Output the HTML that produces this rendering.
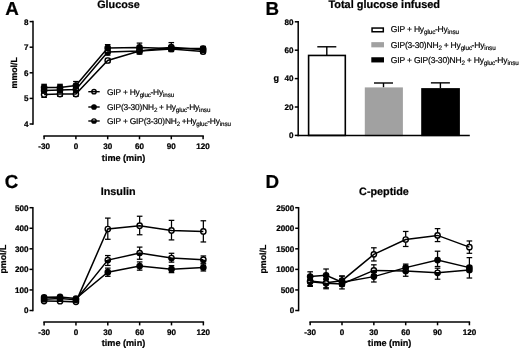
<!DOCTYPE html>
<html><head><meta charset="utf-8"><title>Figure</title>
<style>
html,body{margin:0;padding:0;background:#fff;}
body{width:520px;height:349px;overflow:hidden;}
svg{display:block;font-family:'Liberation Sans', Arial, Helvetica, sans-serif;text-rendering:geometricPrecision;}
text{stroke:#000;stroke-width:0.22px;}
text.reg{stroke-width:0.18px;}
</style></head><body>
<svg width="520" height="349" viewBox="0 0 520 349" font-family="'Liberation Sans', Arial, Helvetica, sans-serif" fill="#000">
<rect x="0" y="0" width="520" height="349" fill="#fff"/>
<line x1="33.00" y1="20.85" x2="33.00" y2="124.75" stroke="#000" stroke-width="1.5" />
<line x1="29.60" y1="124.00" x2="33.00" y2="124.00" stroke="#000" stroke-width="1.5" />
<text x="28.60" y="126.90" font-size="8.1" font-weight="bold" text-anchor="end" >4</text>
<line x1="29.60" y1="98.40" x2="33.00" y2="98.40" stroke="#000" stroke-width="1.5" />
<text x="28.60" y="101.30" font-size="8.1" font-weight="bold" text-anchor="end" >5</text>
<line x1="29.60" y1="72.80" x2="33.00" y2="72.80" stroke="#000" stroke-width="1.5" />
<text x="28.60" y="75.70" font-size="8.1" font-weight="bold" text-anchor="end" >6</text>
<line x1="29.60" y1="47.20" x2="33.00" y2="47.20" stroke="#000" stroke-width="1.5" />
<text x="28.60" y="50.10" font-size="8.1" font-weight="bold" text-anchor="end" >7</text>
<line x1="29.60" y1="21.60" x2="33.00" y2="21.60" stroke="#000" stroke-width="1.5" />
<text x="28.60" y="24.50" font-size="8.1" font-weight="bold" text-anchor="end" >8</text>
<line x1="43.35" y1="135.90" x2="203.85" y2="135.90" stroke="#000" stroke-width="1.5" />
<line x1="44.10" y1="135.90" x2="44.10" y2="139.30" stroke="#000" stroke-width="1.5" />
<text x="44.10" y="148.80" font-size="8.1" font-weight="bold" text-anchor="middle" >-30</text>
<line x1="75.90" y1="135.90" x2="75.90" y2="139.30" stroke="#000" stroke-width="1.5" />
<text x="75.90" y="148.80" font-size="8.1" font-weight="bold" text-anchor="middle" >0</text>
<line x1="107.70" y1="135.90" x2="107.70" y2="139.30" stroke="#000" stroke-width="1.5" />
<text x="107.70" y="148.80" font-size="8.1" font-weight="bold" text-anchor="middle" >30</text>
<line x1="139.50" y1="135.90" x2="139.50" y2="139.30" stroke="#000" stroke-width="1.5" />
<text x="139.50" y="148.80" font-size="8.1" font-weight="bold" text-anchor="middle" >60</text>
<line x1="171.30" y1="135.90" x2="171.30" y2="139.30" stroke="#000" stroke-width="1.5" />
<text x="171.30" y="148.80" font-size="8.1" font-weight="bold" text-anchor="middle" >90</text>
<line x1="203.10" y1="135.90" x2="203.10" y2="139.30" stroke="#000" stroke-width="1.5" />
<text x="203.10" y="148.80" font-size="8.1" font-weight="bold" text-anchor="middle" >120</text>
<text x="123.60" y="160.50" font-size="9.1" font-weight="bold" text-anchor="middle" >time (min)</text>
<text x="118.50" y="7.70" font-size="10.8" font-weight="bold" text-anchor="middle" >Glucose</text>
<text transform="translate(17.30,72.80) rotate(-90)" font-size="8.8" font-weight="bold" text-anchor="middle">mmol/L</text>
<line x1="44.10" y1="92.00" x2="44.10" y2="97.38" stroke="#000" stroke-width="1.25" />
<line x1="41.30" y1="92.00" x2="46.90" y2="92.00" stroke="#000" stroke-width="1.25" />
<line x1="41.30" y1="97.38" x2="46.90" y2="97.38" stroke="#000" stroke-width="1.25" />
<line x1="60.00" y1="91.49" x2="60.00" y2="96.35" stroke="#000" stroke-width="1.25" />
<line x1="57.20" y1="91.49" x2="62.80" y2="91.49" stroke="#000" stroke-width="1.25" />
<line x1="57.20" y1="96.35" x2="62.80" y2="96.35" stroke="#000" stroke-width="1.25" />
<line x1="75.90" y1="91.49" x2="75.90" y2="96.35" stroke="#000" stroke-width="1.25" />
<line x1="73.10" y1="91.49" x2="78.70" y2="91.49" stroke="#000" stroke-width="1.25" />
<line x1="73.10" y1="96.35" x2="78.70" y2="96.35" stroke="#000" stroke-width="1.25" />
<line x1="107.70" y1="58.46" x2="107.70" y2="62.56" stroke="#000" stroke-width="1.25" />
<line x1="104.90" y1="58.46" x2="110.50" y2="58.46" stroke="#000" stroke-width="1.25" />
<line x1="104.90" y1="62.56" x2="110.50" y2="62.56" stroke="#000" stroke-width="1.25" />
<line x1="139.50" y1="48.48" x2="139.50" y2="54.11" stroke="#000" stroke-width="1.25" />
<line x1="136.70" y1="48.48" x2="142.30" y2="48.48" stroke="#000" stroke-width="1.25" />
<line x1="136.70" y1="54.11" x2="142.30" y2="54.11" stroke="#000" stroke-width="1.25" />
<line x1="171.30" y1="46.43" x2="171.30" y2="51.55" stroke="#000" stroke-width="1.25" />
<line x1="168.50" y1="46.43" x2="174.10" y2="46.43" stroke="#000" stroke-width="1.25" />
<line x1="168.50" y1="51.55" x2="174.10" y2="51.55" stroke="#000" stroke-width="1.25" />
<line x1="203.10" y1="49.50" x2="203.10" y2="53.60" stroke="#000" stroke-width="1.25" />
<line x1="200.30" y1="49.50" x2="205.90" y2="49.50" stroke="#000" stroke-width="1.25" />
<line x1="200.30" y1="53.60" x2="205.90" y2="53.60" stroke="#000" stroke-width="1.25" />
<circle cx="44.10" cy="94.56" r="2.65" fill="#fff" stroke="#000" stroke-width="1.4"/>
<circle cx="60.00" cy="94.05" r="2.65" fill="#fff" stroke="#000" stroke-width="1.4"/>
<circle cx="75.90" cy="94.05" r="2.65" fill="#fff" stroke="#000" stroke-width="1.4"/>
<circle cx="107.70" cy="60.51" r="2.65" fill="#fff" stroke="#000" stroke-width="1.4"/>
<circle cx="139.50" cy="51.04" r="2.65" fill="#fff" stroke="#000" stroke-width="1.4"/>
<circle cx="171.30" cy="48.99" r="2.65" fill="#fff" stroke="#000" stroke-width="1.4"/>
<circle cx="203.10" cy="51.55" r="2.65" fill="#fff" stroke="#000" stroke-width="1.4"/>
<polyline fill="none" stroke="#000" stroke-width="1.5" points="44.10,94.56 60.00,94.05 75.90,94.05 107.70,60.51 139.50,51.04 171.30,48.99 203.10,51.55"/>
<line x1="44.10" y1="87.90" x2="44.10" y2="93.02" stroke="#000" stroke-width="1.25" />
<line x1="41.30" y1="87.90" x2="46.90" y2="87.90" stroke="#000" stroke-width="1.25" />
<line x1="41.30" y1="93.02" x2="46.90" y2="93.02" stroke="#000" stroke-width="1.25" />
<line x1="60.00" y1="87.39" x2="60.00" y2="92.51" stroke="#000" stroke-width="1.25" />
<line x1="57.20" y1="87.39" x2="62.80" y2="87.39" stroke="#000" stroke-width="1.25" />
<line x1="57.20" y1="92.51" x2="62.80" y2="92.51" stroke="#000" stroke-width="1.25" />
<line x1="75.90" y1="86.37" x2="75.90" y2="92.51" stroke="#000" stroke-width="1.25" />
<line x1="73.10" y1="86.37" x2="78.70" y2="86.37" stroke="#000" stroke-width="1.25" />
<line x1="73.10" y1="92.51" x2="78.70" y2="92.51" stroke="#000" stroke-width="1.25" />
<line x1="107.70" y1="48.99" x2="107.70" y2="55.14" stroke="#000" stroke-width="1.25" />
<line x1="104.90" y1="48.99" x2="110.50" y2="48.99" stroke="#000" stroke-width="1.25" />
<line x1="104.90" y1="55.14" x2="110.50" y2="55.14" stroke="#000" stroke-width="1.25" />
<line x1="139.50" y1="48.48" x2="139.50" y2="53.60" stroke="#000" stroke-width="1.25" />
<line x1="136.70" y1="48.48" x2="142.30" y2="48.48" stroke="#000" stroke-width="1.25" />
<line x1="136.70" y1="53.60" x2="142.30" y2="53.60" stroke="#000" stroke-width="1.25" />
<line x1="171.30" y1="42.59" x2="171.30" y2="49.76" stroke="#000" stroke-width="1.25" />
<line x1="168.50" y1="42.59" x2="174.10" y2="42.59" stroke="#000" stroke-width="1.25" />
<line x1="168.50" y1="49.76" x2="174.10" y2="49.76" stroke="#000" stroke-width="1.25" />
<line x1="203.10" y1="47.71" x2="203.10" y2="51.81" stroke="#000" stroke-width="1.25" />
<line x1="200.30" y1="47.71" x2="205.90" y2="47.71" stroke="#000" stroke-width="1.25" />
<line x1="200.30" y1="51.81" x2="205.90" y2="51.81" stroke="#000" stroke-width="1.25" />
<circle cx="44.10" cy="90.46" r="2.65" fill="#fff" stroke="#000" stroke-width="1.4"/>
<path d="M41.45 90.46 A2.65 2.65 0 0 0 46.75 90.46 Z" fill="#000"/>
<circle cx="60.00" cy="89.95" r="2.65" fill="#fff" stroke="#000" stroke-width="1.4"/>
<path d="M57.35 89.95 A2.65 2.65 0 0 0 62.65 89.95 Z" fill="#000"/>
<circle cx="75.90" cy="89.44" r="2.65" fill="#fff" stroke="#000" stroke-width="1.4"/>
<path d="M73.25 89.44 A2.65 2.65 0 0 0 78.55 89.44 Z" fill="#000"/>
<circle cx="107.70" cy="52.06" r="2.65" fill="#fff" stroke="#000" stroke-width="1.4"/>
<path d="M105.05 52.06 A2.65 2.65 0 0 0 110.35 52.06 Z" fill="#000"/>
<circle cx="139.50" cy="51.04" r="2.65" fill="#fff" stroke="#000" stroke-width="1.4"/>
<path d="M136.85 51.04 A2.65 2.65 0 0 0 142.15 51.04 Z" fill="#000"/>
<circle cx="171.30" cy="47.20" r="2.65" fill="#fff" stroke="#000" stroke-width="1.4"/>
<path d="M168.65 47.20 A2.65 2.65 0 0 0 173.95 47.20 Z" fill="#000"/>
<circle cx="203.10" cy="49.76" r="2.65" fill="#fff" stroke="#000" stroke-width="1.4"/>
<path d="M200.45 49.76 A2.65 2.65 0 0 0 205.75 49.76 Z" fill="#000"/>
<polyline fill="none" stroke="#000" stroke-width="1.5" points="44.10,90.46 60.00,89.95 75.90,89.44 107.70,52.06 139.50,51.04 171.30,47.20 203.10,49.76"/>
<line x1="44.10" y1="84.32" x2="44.10" y2="89.95" stroke="#000" stroke-width="1.25" />
<line x1="41.30" y1="84.32" x2="46.90" y2="84.32" stroke="#000" stroke-width="1.25" />
<line x1="41.30" y1="89.95" x2="46.90" y2="89.95" stroke="#000" stroke-width="1.25" />
<line x1="60.00" y1="84.32" x2="60.00" y2="89.95" stroke="#000" stroke-width="1.25" />
<line x1="57.20" y1="84.32" x2="62.80" y2="84.32" stroke="#000" stroke-width="1.25" />
<line x1="57.20" y1="89.95" x2="62.80" y2="89.95" stroke="#000" stroke-width="1.25" />
<line x1="75.90" y1="81.50" x2="75.90" y2="88.16" stroke="#000" stroke-width="1.25" />
<line x1="73.10" y1="81.50" x2="78.70" y2="81.50" stroke="#000" stroke-width="1.25" />
<line x1="73.10" y1="88.16" x2="78.70" y2="88.16" stroke="#000" stroke-width="1.25" />
<line x1="107.70" y1="44.64" x2="107.70" y2="50.53" stroke="#000" stroke-width="1.25" />
<line x1="104.90" y1="44.64" x2="110.50" y2="44.64" stroke="#000" stroke-width="1.25" />
<line x1="104.90" y1="50.53" x2="110.50" y2="50.53" stroke="#000" stroke-width="1.25" />
<line x1="139.50" y1="43.10" x2="139.50" y2="50.02" stroke="#000" stroke-width="1.25" />
<line x1="136.70" y1="43.10" x2="142.30" y2="43.10" stroke="#000" stroke-width="1.25" />
<line x1="136.70" y1="50.02" x2="142.30" y2="50.02" stroke="#000" stroke-width="1.25" />
<line x1="171.30" y1="45.92" x2="171.30" y2="51.04" stroke="#000" stroke-width="1.25" />
<line x1="168.50" y1="45.92" x2="174.10" y2="45.92" stroke="#000" stroke-width="1.25" />
<line x1="168.50" y1="51.04" x2="174.10" y2="51.04" stroke="#000" stroke-width="1.25" />
<line x1="203.10" y1="46.43" x2="203.10" y2="50.53" stroke="#000" stroke-width="1.25" />
<line x1="200.30" y1="46.43" x2="205.90" y2="46.43" stroke="#000" stroke-width="1.25" />
<line x1="200.30" y1="50.53" x2="205.90" y2="50.53" stroke="#000" stroke-width="1.25" />
<circle cx="44.10" cy="87.39" r="2.65" fill="#000" stroke="#000" stroke-width="1.4"/>
<circle cx="60.00" cy="87.39" r="2.65" fill="#000" stroke="#000" stroke-width="1.4"/>
<circle cx="75.90" cy="85.60" r="2.65" fill="#000" stroke="#000" stroke-width="1.4"/>
<circle cx="107.70" cy="47.97" r="2.65" fill="#000" stroke="#000" stroke-width="1.4"/>
<circle cx="139.50" cy="47.46" r="2.65" fill="#000" stroke="#000" stroke-width="1.4"/>
<circle cx="171.30" cy="48.48" r="2.65" fill="#000" stroke="#000" stroke-width="1.4"/>
<circle cx="203.10" cy="48.48" r="2.65" fill="#000" stroke="#000" stroke-width="1.4"/>
<polyline fill="none" stroke="#000" stroke-width="1.5" points="44.10,87.39 60.00,87.39 75.90,85.60 107.70,47.97 139.50,47.46 171.30,48.48 203.10,48.48"/>
<line x1="32.90" y1="206.95" x2="32.90" y2="311.25" stroke="#000" stroke-width="1.5" />
<line x1="29.50" y1="310.50" x2="32.90" y2="310.50" stroke="#000" stroke-width="1.5" />
<text x="28.50" y="313.40" font-size="8.1" font-weight="bold" text-anchor="end" >0</text>
<line x1="29.50" y1="289.94" x2="32.90" y2="289.94" stroke="#000" stroke-width="1.5" />
<text x="28.50" y="292.84" font-size="8.1" font-weight="bold" text-anchor="end" >100</text>
<line x1="29.50" y1="269.38" x2="32.90" y2="269.38" stroke="#000" stroke-width="1.5" />
<text x="28.50" y="272.28" font-size="8.1" font-weight="bold" text-anchor="end" >200</text>
<line x1="29.50" y1="248.82" x2="32.90" y2="248.82" stroke="#000" stroke-width="1.5" />
<text x="28.50" y="251.72" font-size="8.1" font-weight="bold" text-anchor="end" >300</text>
<line x1="29.50" y1="228.26" x2="32.90" y2="228.26" stroke="#000" stroke-width="1.5" />
<text x="28.50" y="231.16" font-size="8.1" font-weight="bold" text-anchor="end" >400</text>
<line x1="29.50" y1="207.70" x2="32.90" y2="207.70" stroke="#000" stroke-width="1.5" />
<text x="28.50" y="210.60" font-size="8.1" font-weight="bold" text-anchor="end" >500</text>
<line x1="43.35" y1="322.00" x2="204.10" y2="322.00" stroke="#000" stroke-width="1.5" />
<line x1="44.10" y1="322.00" x2="44.10" y2="325.40" stroke="#000" stroke-width="1.5" />
<text x="44.10" y="335.00" font-size="8.1" font-weight="bold" text-anchor="middle" >-30</text>
<line x1="75.95" y1="322.00" x2="75.95" y2="325.40" stroke="#000" stroke-width="1.5" />
<text x="75.95" y="335.00" font-size="8.1" font-weight="bold" text-anchor="middle" >0</text>
<line x1="107.80" y1="322.00" x2="107.80" y2="325.40" stroke="#000" stroke-width="1.5" />
<text x="107.80" y="335.00" font-size="8.1" font-weight="bold" text-anchor="middle" >30</text>
<line x1="139.65" y1="322.00" x2="139.65" y2="325.40" stroke="#000" stroke-width="1.5" />
<text x="139.65" y="335.00" font-size="8.1" font-weight="bold" text-anchor="middle" >60</text>
<line x1="171.50" y1="322.00" x2="171.50" y2="325.40" stroke="#000" stroke-width="1.5" />
<text x="171.50" y="335.00" font-size="8.1" font-weight="bold" text-anchor="middle" >90</text>
<line x1="203.35" y1="322.00" x2="203.35" y2="325.40" stroke="#000" stroke-width="1.5" />
<text x="203.35" y="335.00" font-size="8.1" font-weight="bold" text-anchor="middle" >120</text>
<text x="123.50" y="346.30" font-size="9.1" font-weight="bold" text-anchor="middle" >time (min)</text>
<text x="118.10" y="194.50" font-size="10.8" font-weight="bold" text-anchor="middle" >Insulin</text>
<text transform="translate(6.40,259.10) rotate(-90)" font-size="8.8" font-weight="bold" text-anchor="middle">pmol/L</text>
<line x1="44.10" y1="300.00" x2="44.10" y2="302.06" stroke="#000" stroke-width="1.25" />
<line x1="41.30" y1="300.00" x2="46.90" y2="300.00" stroke="#000" stroke-width="1.25" />
<line x1="41.30" y1="302.06" x2="46.90" y2="302.06" stroke="#000" stroke-width="1.25" />
<line x1="60.03" y1="300.21" x2="60.03" y2="302.27" stroke="#000" stroke-width="1.25" />
<line x1="57.23" y1="300.21" x2="62.83" y2="300.21" stroke="#000" stroke-width="1.25" />
<line x1="57.23" y1="302.27" x2="62.83" y2="302.27" stroke="#000" stroke-width="1.25" />
<line x1="75.95" y1="300.83" x2="75.95" y2="302.89" stroke="#000" stroke-width="1.25" />
<line x1="73.15" y1="300.83" x2="78.75" y2="300.83" stroke="#000" stroke-width="1.25" />
<line x1="73.15" y1="302.89" x2="78.75" y2="302.89" stroke="#000" stroke-width="1.25" />
<line x1="107.80" y1="218.10" x2="107.80" y2="239.29" stroke="#000" stroke-width="1.25" />
<line x1="105.00" y1="218.10" x2="110.60" y2="218.10" stroke="#000" stroke-width="1.25" />
<line x1="105.00" y1="239.29" x2="110.60" y2="239.29" stroke="#000" stroke-width="1.25" />
<line x1="139.65" y1="216.24" x2="139.65" y2="234.77" stroke="#000" stroke-width="1.25" />
<line x1="136.85" y1="216.24" x2="142.45" y2="216.24" stroke="#000" stroke-width="1.25" />
<line x1="136.85" y1="234.77" x2="142.45" y2="234.77" stroke="#000" stroke-width="1.25" />
<line x1="171.50" y1="220.36" x2="171.50" y2="239.91" stroke="#000" stroke-width="1.25" />
<line x1="168.70" y1="220.36" x2="174.30" y2="220.36" stroke="#000" stroke-width="1.25" />
<line x1="168.70" y1="239.91" x2="174.30" y2="239.91" stroke="#000" stroke-width="1.25" />
<line x1="203.35" y1="220.77" x2="203.35" y2="241.97" stroke="#000" stroke-width="1.25" />
<line x1="200.55" y1="220.77" x2="206.15" y2="220.77" stroke="#000" stroke-width="1.25" />
<line x1="200.55" y1="241.97" x2="206.15" y2="241.97" stroke="#000" stroke-width="1.25" />
<circle cx="44.10" cy="301.03" r="2.65" fill="#fff" stroke="#000" stroke-width="1.4"/>
<circle cx="60.03" cy="301.24" r="2.65" fill="#fff" stroke="#000" stroke-width="1.4"/>
<circle cx="75.95" cy="301.86" r="2.65" fill="#fff" stroke="#000" stroke-width="1.4"/>
<circle cx="107.80" cy="229.00" r="2.65" fill="#fff" stroke="#000" stroke-width="1.4"/>
<circle cx="139.65" cy="225.71" r="2.65" fill="#fff" stroke="#000" stroke-width="1.4"/>
<circle cx="171.50" cy="230.44" r="2.65" fill="#fff" stroke="#000" stroke-width="1.4"/>
<circle cx="203.35" cy="231.47" r="2.65" fill="#fff" stroke="#000" stroke-width="1.4"/>
<polyline fill="none" stroke="#000" stroke-width="1.5" points="44.10,301.03 60.03,301.24 75.95,301.86 107.80,229.00 139.65,225.71 171.50,230.44 203.35,231.47"/>
<line x1="44.10" y1="298.15" x2="44.10" y2="300.21" stroke="#000" stroke-width="1.25" />
<line x1="41.30" y1="298.15" x2="46.90" y2="298.15" stroke="#000" stroke-width="1.25" />
<line x1="41.30" y1="300.21" x2="46.90" y2="300.21" stroke="#000" stroke-width="1.25" />
<line x1="60.03" y1="297.53" x2="60.03" y2="299.59" stroke="#000" stroke-width="1.25" />
<line x1="57.23" y1="297.53" x2="62.83" y2="297.53" stroke="#000" stroke-width="1.25" />
<line x1="57.23" y1="299.59" x2="62.83" y2="299.59" stroke="#000" stroke-width="1.25" />
<line x1="75.95" y1="298.77" x2="75.95" y2="300.83" stroke="#000" stroke-width="1.25" />
<line x1="73.15" y1="298.77" x2="78.75" y2="298.77" stroke="#000" stroke-width="1.25" />
<line x1="73.15" y1="300.83" x2="78.75" y2="300.83" stroke="#000" stroke-width="1.25" />
<line x1="107.80" y1="255.55" x2="107.80" y2="265.43" stroke="#000" stroke-width="1.25" />
<line x1="105.00" y1="255.55" x2="110.60" y2="255.55" stroke="#000" stroke-width="1.25" />
<line x1="105.00" y1="265.43" x2="110.60" y2="265.43" stroke="#000" stroke-width="1.25" />
<line x1="139.65" y1="247.11" x2="139.65" y2="259.26" stroke="#000" stroke-width="1.25" />
<line x1="136.85" y1="247.11" x2="142.45" y2="247.11" stroke="#000" stroke-width="1.25" />
<line x1="136.85" y1="259.26" x2="142.45" y2="259.26" stroke="#000" stroke-width="1.25" />
<line x1="171.50" y1="253.29" x2="171.50" y2="262.14" stroke="#000" stroke-width="1.25" />
<line x1="168.70" y1="253.29" x2="174.30" y2="253.29" stroke="#000" stroke-width="1.25" />
<line x1="168.70" y1="262.14" x2="174.30" y2="262.14" stroke="#000" stroke-width="1.25" />
<line x1="203.35" y1="255.96" x2="203.35" y2="263.17" stroke="#000" stroke-width="1.25" />
<line x1="200.55" y1="255.96" x2="206.15" y2="255.96" stroke="#000" stroke-width="1.25" />
<line x1="200.55" y1="263.17" x2="206.15" y2="263.17" stroke="#000" stroke-width="1.25" />
<circle cx="44.10" cy="299.18" r="2.65" fill="#fff" stroke="#000" stroke-width="1.4"/>
<path d="M41.45 299.18 A2.65 2.65 0 0 0 46.75 299.18 Z" fill="#000"/>
<circle cx="60.03" cy="298.56" r="2.65" fill="#fff" stroke="#000" stroke-width="1.4"/>
<path d="M57.38 298.56 A2.65 2.65 0 0 0 62.68 298.56 Z" fill="#000"/>
<circle cx="75.95" cy="299.80" r="2.65" fill="#fff" stroke="#000" stroke-width="1.4"/>
<path d="M73.30 299.80 A2.65 2.65 0 0 0 78.60 299.80 Z" fill="#000"/>
<circle cx="107.80" cy="260.08" r="2.65" fill="#fff" stroke="#000" stroke-width="1.4"/>
<path d="M105.15 260.08 A2.65 2.65 0 0 0 110.45 260.08 Z" fill="#000"/>
<circle cx="139.65" cy="253.08" r="2.65" fill="#fff" stroke="#000" stroke-width="1.4"/>
<path d="M137.00 253.08 A2.65 2.65 0 0 0 142.30 253.08 Z" fill="#000"/>
<circle cx="171.50" cy="258.02" r="2.65" fill="#fff" stroke="#000" stroke-width="1.4"/>
<path d="M168.85 258.02 A2.65 2.65 0 0 0 174.15 258.02 Z" fill="#000"/>
<circle cx="203.35" cy="259.67" r="2.65" fill="#fff" stroke="#000" stroke-width="1.4"/>
<path d="M200.70 259.67 A2.65 2.65 0 0 0 206.00 259.67 Z" fill="#000"/>
<polyline fill="none" stroke="#000" stroke-width="1.5" points="44.10,299.18 60.03,298.56 75.95,299.80 107.80,260.08 139.65,253.08 171.50,258.02 203.35,259.67"/>
<line x1="44.10" y1="296.30" x2="44.10" y2="298.36" stroke="#000" stroke-width="1.25" />
<line x1="41.30" y1="296.30" x2="46.90" y2="296.30" stroke="#000" stroke-width="1.25" />
<line x1="41.30" y1="298.36" x2="46.90" y2="298.36" stroke="#000" stroke-width="1.25" />
<line x1="60.03" y1="295.89" x2="60.03" y2="297.95" stroke="#000" stroke-width="1.25" />
<line x1="57.23" y1="295.89" x2="62.83" y2="295.89" stroke="#000" stroke-width="1.25" />
<line x1="57.23" y1="297.95" x2="62.83" y2="297.95" stroke="#000" stroke-width="1.25" />
<line x1="75.95" y1="297.53" x2="75.95" y2="299.59" stroke="#000" stroke-width="1.25" />
<line x1="73.15" y1="297.53" x2="78.75" y2="297.53" stroke="#000" stroke-width="1.25" />
<line x1="73.15" y1="299.59" x2="78.75" y2="299.59" stroke="#000" stroke-width="1.25" />
<line x1="107.80" y1="268.11" x2="107.80" y2="276.34" stroke="#000" stroke-width="1.25" />
<line x1="105.00" y1="268.11" x2="110.60" y2="268.11" stroke="#000" stroke-width="1.25" />
<line x1="105.00" y1="276.34" x2="110.60" y2="276.34" stroke="#000" stroke-width="1.25" />
<line x1="139.65" y1="261.93" x2="139.65" y2="270.16" stroke="#000" stroke-width="1.25" />
<line x1="136.85" y1="261.93" x2="142.45" y2="261.93" stroke="#000" stroke-width="1.25" />
<line x1="136.85" y1="270.16" x2="142.45" y2="270.16" stroke="#000" stroke-width="1.25" />
<line x1="171.50" y1="265.64" x2="171.50" y2="272.63" stroke="#000" stroke-width="1.25" />
<line x1="168.70" y1="265.64" x2="174.30" y2="265.64" stroke="#000" stroke-width="1.25" />
<line x1="168.70" y1="272.63" x2="174.30" y2="272.63" stroke="#000" stroke-width="1.25" />
<line x1="203.35" y1="263.99" x2="203.35" y2="270.99" stroke="#000" stroke-width="1.25" />
<line x1="200.55" y1="263.99" x2="206.15" y2="263.99" stroke="#000" stroke-width="1.25" />
<line x1="200.55" y1="270.99" x2="206.15" y2="270.99" stroke="#000" stroke-width="1.25" />
<circle cx="44.10" cy="297.33" r="2.65" fill="#000" stroke="#000" stroke-width="1.4"/>
<circle cx="60.03" cy="296.92" r="2.65" fill="#000" stroke="#000" stroke-width="1.4"/>
<circle cx="75.95" cy="298.56" r="2.65" fill="#000" stroke="#000" stroke-width="1.4"/>
<circle cx="107.80" cy="272.22" r="2.65" fill="#000" stroke="#000" stroke-width="1.4"/>
<circle cx="139.65" cy="266.05" r="2.65" fill="#000" stroke="#000" stroke-width="1.4"/>
<circle cx="171.50" cy="269.13" r="2.65" fill="#000" stroke="#000" stroke-width="1.4"/>
<circle cx="203.35" cy="267.49" r="2.65" fill="#000" stroke="#000" stroke-width="1.4"/>
<polyline fill="none" stroke="#000" stroke-width="1.5" points="44.10,297.33 60.03,296.92 75.95,298.56 107.80,272.22 139.65,266.05 171.50,269.13 203.35,267.49"/>
<line x1="298.60" y1="206.95" x2="298.60" y2="311.25" stroke="#000" stroke-width="1.5" />
<line x1="295.20" y1="310.50" x2="298.60" y2="310.50" stroke="#000" stroke-width="1.5" />
<text x="294.20" y="313.40" font-size="8.1" font-weight="bold" text-anchor="end" >0</text>
<line x1="295.20" y1="289.94" x2="298.60" y2="289.94" stroke="#000" stroke-width="1.5" />
<text x="294.20" y="292.84" font-size="8.1" font-weight="bold" text-anchor="end" >500</text>
<line x1="295.20" y1="269.38" x2="298.60" y2="269.38" stroke="#000" stroke-width="1.5" />
<text x="294.20" y="272.28" font-size="8.1" font-weight="bold" text-anchor="end" >1000</text>
<line x1="295.20" y1="248.82" x2="298.60" y2="248.82" stroke="#000" stroke-width="1.5" />
<text x="294.20" y="251.72" font-size="8.1" font-weight="bold" text-anchor="end" >1500</text>
<line x1="295.20" y1="228.26" x2="298.60" y2="228.26" stroke="#000" stroke-width="1.5" />
<text x="294.20" y="231.16" font-size="8.1" font-weight="bold" text-anchor="end" >2000</text>
<line x1="295.20" y1="207.70" x2="298.60" y2="207.70" stroke="#000" stroke-width="1.5" />
<text x="294.20" y="210.60" font-size="8.1" font-weight="bold" text-anchor="end" >2500</text>
<line x1="309.40" y1="321.90" x2="470.15" y2="321.90" stroke="#000" stroke-width="1.5" />
<line x1="310.15" y1="321.90" x2="310.15" y2="325.30" stroke="#000" stroke-width="1.5" />
<text x="310.15" y="335.00" font-size="8.1" font-weight="bold" text-anchor="middle" >-30</text>
<line x1="342.00" y1="321.90" x2="342.00" y2="325.30" stroke="#000" stroke-width="1.5" />
<text x="342.00" y="335.00" font-size="8.1" font-weight="bold" text-anchor="middle" >0</text>
<line x1="373.85" y1="321.90" x2="373.85" y2="325.30" stroke="#000" stroke-width="1.5" />
<text x="373.85" y="335.00" font-size="8.1" font-weight="bold" text-anchor="middle" >30</text>
<line x1="405.70" y1="321.90" x2="405.70" y2="325.30" stroke="#000" stroke-width="1.5" />
<text x="405.70" y="335.00" font-size="8.1" font-weight="bold" text-anchor="middle" >60</text>
<line x1="437.55" y1="321.90" x2="437.55" y2="325.30" stroke="#000" stroke-width="1.5" />
<text x="437.55" y="335.00" font-size="8.1" font-weight="bold" text-anchor="middle" >90</text>
<line x1="469.40" y1="321.90" x2="469.40" y2="325.30" stroke="#000" stroke-width="1.5" />
<text x="469.40" y="335.00" font-size="8.1" font-weight="bold" text-anchor="middle" >120</text>
<text x="389.60" y="346.30" font-size="9.1" font-weight="bold" text-anchor="middle" >time (min)</text>
<text x="384.00" y="194.50" font-size="10.8" font-weight="bold" text-anchor="middle" >C-peptide</text>
<text transform="translate(266.40,259.10) rotate(-90)" font-size="8.8" font-weight="bold" text-anchor="middle">pmol/L</text>
<line x1="310.15" y1="276.90" x2="310.15" y2="285.54" stroke="#000" stroke-width="1.25" />
<line x1="307.35" y1="276.90" x2="312.95" y2="276.90" stroke="#000" stroke-width="1.25" />
<line x1="307.35" y1="285.54" x2="312.95" y2="285.54" stroke="#000" stroke-width="1.25" />
<line x1="326.07" y1="278.67" x2="326.07" y2="287.72" stroke="#000" stroke-width="1.25" />
<line x1="323.27" y1="278.67" x2="328.88" y2="278.67" stroke="#000" stroke-width="1.25" />
<line x1="323.27" y1="287.72" x2="328.88" y2="287.72" stroke="#000" stroke-width="1.25" />
<line x1="342.00" y1="276.16" x2="342.00" y2="284.80" stroke="#000" stroke-width="1.25" />
<line x1="339.20" y1="276.16" x2="344.80" y2="276.16" stroke="#000" stroke-width="1.25" />
<line x1="339.20" y1="284.80" x2="344.80" y2="284.80" stroke="#000" stroke-width="1.25" />
<line x1="373.85" y1="247.79" x2="373.85" y2="260.95" stroke="#000" stroke-width="1.25" />
<line x1="371.05" y1="247.79" x2="376.65" y2="247.79" stroke="#000" stroke-width="1.25" />
<line x1="371.05" y1="260.95" x2="376.65" y2="260.95" stroke="#000" stroke-width="1.25" />
<line x1="405.70" y1="231.47" x2="405.70" y2="246.48" stroke="#000" stroke-width="1.25" />
<line x1="402.90" y1="231.47" x2="408.50" y2="231.47" stroke="#000" stroke-width="1.25" />
<line x1="402.90" y1="246.48" x2="408.50" y2="246.48" stroke="#000" stroke-width="1.25" />
<line x1="437.55" y1="228.63" x2="437.55" y2="241.58" stroke="#000" stroke-width="1.25" />
<line x1="434.75" y1="228.63" x2="440.35" y2="228.63" stroke="#000" stroke-width="1.25" />
<line x1="434.75" y1="241.58" x2="440.35" y2="241.58" stroke="#000" stroke-width="1.25" />
<line x1="469.40" y1="240.97" x2="469.40" y2="253.30" stroke="#000" stroke-width="1.25" />
<line x1="466.60" y1="240.97" x2="472.20" y2="240.97" stroke="#000" stroke-width="1.25" />
<line x1="466.60" y1="253.30" x2="472.20" y2="253.30" stroke="#000" stroke-width="1.25" />
<circle cx="310.15" cy="281.02" r="2.65" fill="#fff" stroke="#000" stroke-width="1.4"/>
<circle cx="326.07" cy="282.79" r="2.65" fill="#fff" stroke="#000" stroke-width="1.4"/>
<circle cx="342.00" cy="280.69" r="2.65" fill="#fff" stroke="#000" stroke-width="1.4"/>
<circle cx="373.85" cy="254.37" r="2.65" fill="#fff" stroke="#000" stroke-width="1.4"/>
<circle cx="405.70" cy="239.49" r="2.65" fill="#fff" stroke="#000" stroke-width="1.4"/>
<circle cx="437.55" cy="235.41" r="2.65" fill="#fff" stroke="#000" stroke-width="1.4"/>
<circle cx="469.40" cy="247.13" r="2.65" fill="#fff" stroke="#000" stroke-width="1.4"/>
<polyline fill="none" stroke="#000" stroke-width="1.5" points="310.15,281.02 326.07,282.79 342.00,280.69 373.85,254.37 405.70,239.49 437.55,235.41 469.40,247.13"/>
<line x1="310.15" y1="277.60" x2="310.15" y2="286.40" stroke="#000" stroke-width="1.25" />
<line x1="307.35" y1="277.60" x2="312.95" y2="277.60" stroke="#000" stroke-width="1.25" />
<line x1="307.35" y1="286.40" x2="312.95" y2="286.40" stroke="#000" stroke-width="1.25" />
<line x1="326.07" y1="279.25" x2="326.07" y2="288.75" stroke="#000" stroke-width="1.25" />
<line x1="323.27" y1="279.25" x2="328.88" y2="279.25" stroke="#000" stroke-width="1.25" />
<line x1="323.27" y1="288.75" x2="328.88" y2="288.75" stroke="#000" stroke-width="1.25" />
<line x1="342.00" y1="279.87" x2="342.00" y2="288.91" stroke="#000" stroke-width="1.25" />
<line x1="339.20" y1="279.87" x2="344.80" y2="279.87" stroke="#000" stroke-width="1.25" />
<line x1="339.20" y1="288.91" x2="344.80" y2="288.91" stroke="#000" stroke-width="1.25" />
<line x1="373.85" y1="264.82" x2="373.85" y2="274.52" stroke="#000" stroke-width="1.25" />
<line x1="371.05" y1="264.82" x2="376.65" y2="264.82" stroke="#000" stroke-width="1.25" />
<line x1="371.05" y1="274.52" x2="376.65" y2="274.52" stroke="#000" stroke-width="1.25" />
<line x1="405.70" y1="266.91" x2="405.70" y2="276.25" stroke="#000" stroke-width="1.25" />
<line x1="402.90" y1="266.91" x2="408.50" y2="266.91" stroke="#000" stroke-width="1.25" />
<line x1="402.90" y1="276.25" x2="408.50" y2="276.25" stroke="#000" stroke-width="1.25" />
<line x1="437.55" y1="268.19" x2="437.55" y2="279.21" stroke="#000" stroke-width="1.25" />
<line x1="434.75" y1="268.19" x2="440.35" y2="268.19" stroke="#000" stroke-width="1.25" />
<line x1="434.75" y1="279.21" x2="440.35" y2="279.21" stroke="#000" stroke-width="1.25" />
<line x1="469.40" y1="265.88" x2="469.40" y2="278.02" stroke="#000" stroke-width="1.25" />
<line x1="466.60" y1="265.88" x2="472.20" y2="265.88" stroke="#000" stroke-width="1.25" />
<line x1="466.60" y1="278.02" x2="472.20" y2="278.02" stroke="#000" stroke-width="1.25" />
<circle cx="310.15" cy="281.72" r="2.65" fill="#fff" stroke="#000" stroke-width="1.4"/>
<path d="M307.50 281.72 A2.65 2.65 0 0 0 312.80 281.72 Z" fill="#000"/>
<circle cx="326.07" cy="283.36" r="2.65" fill="#fff" stroke="#000" stroke-width="1.4"/>
<path d="M323.43 283.36 A2.65 2.65 0 0 0 328.72 283.36 Z" fill="#000"/>
<circle cx="342.00" cy="283.98" r="2.65" fill="#fff" stroke="#000" stroke-width="1.4"/>
<path d="M339.35 283.98 A2.65 2.65 0 0 0 344.65 283.98 Z" fill="#000"/>
<circle cx="373.85" cy="270.41" r="2.65" fill="#fff" stroke="#000" stroke-width="1.4"/>
<path d="M371.20 270.41 A2.65 2.65 0 0 0 376.50 270.41 Z" fill="#000"/>
<circle cx="405.70" cy="271.02" r="2.65" fill="#fff" stroke="#000" stroke-width="1.4"/>
<path d="M403.05 271.02 A2.65 2.65 0 0 0 408.35 271.02 Z" fill="#000"/>
<circle cx="437.55" cy="272.79" r="2.65" fill="#fff" stroke="#000" stroke-width="1.4"/>
<path d="M434.90 272.79 A2.65 2.65 0 0 0 440.20 272.79 Z" fill="#000"/>
<circle cx="469.40" cy="270.00" r="2.65" fill="#fff" stroke="#000" stroke-width="1.4"/>
<path d="M466.75 270.00 A2.65 2.65 0 0 0 472.05 270.00 Z" fill="#000"/>
<polyline fill="none" stroke="#000" stroke-width="1.5" points="310.15,281.72 326.07,283.36 342.00,283.98 373.85,270.41 405.70,271.02 437.55,272.79 469.40,270.00"/>
<line x1="310.15" y1="271.81" x2="310.15" y2="280.61" stroke="#000" stroke-width="1.25" />
<line x1="307.35" y1="271.81" x2="312.95" y2="271.81" stroke="#000" stroke-width="1.25" />
<line x1="307.35" y1="280.61" x2="312.95" y2="280.61" stroke="#000" stroke-width="1.25" />
<line x1="326.07" y1="269.01" x2="326.07" y2="279.41" stroke="#000" stroke-width="1.25" />
<line x1="323.27" y1="269.01" x2="328.88" y2="269.01" stroke="#000" stroke-width="1.25" />
<line x1="323.27" y1="279.41" x2="328.88" y2="279.41" stroke="#000" stroke-width="1.25" />
<line x1="342.00" y1="275.96" x2="342.00" y2="286.24" stroke="#000" stroke-width="1.25" />
<line x1="339.20" y1="275.96" x2="344.80" y2="275.96" stroke="#000" stroke-width="1.25" />
<line x1="339.20" y1="286.24" x2="344.80" y2="286.24" stroke="#000" stroke-width="1.25" />
<line x1="373.85" y1="272.51" x2="373.85" y2="282.00" stroke="#000" stroke-width="1.25" />
<line x1="371.05" y1="272.51" x2="376.65" y2="272.51" stroke="#000" stroke-width="1.25" />
<line x1="371.05" y1="282.00" x2="376.65" y2="282.00" stroke="#000" stroke-width="1.25" />
<line x1="405.70" y1="264.12" x2="405.70" y2="271.72" stroke="#000" stroke-width="1.25" />
<line x1="402.90" y1="264.12" x2="408.50" y2="264.12" stroke="#000" stroke-width="1.25" />
<line x1="402.90" y1="271.72" x2="408.50" y2="271.72" stroke="#000" stroke-width="1.25" />
<line x1="437.55" y1="251.20" x2="437.55" y2="266.50" stroke="#000" stroke-width="1.25" />
<line x1="434.75" y1="251.20" x2="440.35" y2="251.20" stroke="#000" stroke-width="1.25" />
<line x1="434.75" y1="266.50" x2="440.35" y2="266.50" stroke="#000" stroke-width="1.25" />
<line x1="469.40" y1="257.62" x2="469.40" y2="271.72" stroke="#000" stroke-width="1.25" />
<line x1="466.60" y1="257.62" x2="472.20" y2="257.62" stroke="#000" stroke-width="1.25" />
<line x1="466.60" y1="271.72" x2="472.20" y2="271.72" stroke="#000" stroke-width="1.25" />
<circle cx="310.15" cy="276.49" r="2.65" fill="#000" stroke="#000" stroke-width="1.4"/>
<circle cx="326.07" cy="275.30" r="2.65" fill="#000" stroke="#000" stroke-width="1.4"/>
<circle cx="342.00" cy="282.13" r="2.65" fill="#000" stroke="#000" stroke-width="1.4"/>
<circle cx="373.85" cy="276.62" r="2.65" fill="#000" stroke="#000" stroke-width="1.4"/>
<circle cx="405.70" cy="267.61" r="2.65" fill="#000" stroke="#000" stroke-width="1.4"/>
<circle cx="437.55" cy="260.09" r="2.65" fill="#000" stroke="#000" stroke-width="1.4"/>
<circle cx="469.40" cy="267.61" r="2.65" fill="#000" stroke="#000" stroke-width="1.4"/>
<polyline fill="none" stroke="#000" stroke-width="1.5" points="310.15,276.49 326.07,275.30 342.00,282.13 373.85,276.62 405.70,267.61 437.55,260.09 469.40,267.61"/>
<line x1="298.20" y1="21.05" x2="298.20" y2="136.15" stroke="#000" stroke-width="1.5" />
<line x1="294.80" y1="135.40" x2="298.20" y2="135.40" stroke="#000" stroke-width="1.5" />
<text x="293.60" y="138.20" font-size="8.1" font-weight="bold" text-anchor="end" >0</text>
<line x1="294.80" y1="107.00" x2="298.20" y2="107.00" stroke="#000" stroke-width="1.5" />
<text x="293.60" y="109.80" font-size="8.1" font-weight="bold" text-anchor="end" >20</text>
<line x1="294.80" y1="78.60" x2="298.20" y2="78.60" stroke="#000" stroke-width="1.5" />
<text x="293.60" y="81.40" font-size="8.1" font-weight="bold" text-anchor="end" >40</text>
<line x1="294.80" y1="50.20" x2="298.20" y2="50.20" stroke="#000" stroke-width="1.5" />
<text x="293.60" y="53.00" font-size="8.1" font-weight="bold" text-anchor="end" >60</text>
<line x1="294.80" y1="21.80" x2="298.20" y2="21.80" stroke="#000" stroke-width="1.5" />
<text x="293.60" y="24.60" font-size="8.1" font-weight="bold" text-anchor="end" >80</text>
<line x1="326.80" y1="55.45" x2="326.80" y2="46.79" stroke="#000" stroke-width="1.4" />
<line x1="317.30" y1="46.79" x2="336.30" y2="46.79" stroke="#000" stroke-width="1.4" />
<rect x="308.60" y="55.45" width="36.70" height="79.95" fill="#fff" stroke="#000" stroke-width="1.6"/>
<line x1="383.50" y1="87.40" x2="383.50" y2="83.00" stroke="#000" stroke-width="1.4" />
<line x1="374.00" y1="83.00" x2="393.00" y2="83.00" stroke="#000" stroke-width="1.4" />
<rect x="364.80" y="87.40" width="38.10" height="48.75" fill="#a1a1a1"/>
<line x1="440.40" y1="88.11" x2="440.40" y2="82.86" stroke="#000" stroke-width="1.4" />
<line x1="430.90" y1="82.86" x2="449.90" y2="82.86" stroke="#000" stroke-width="1.4" />
<rect x="421.20" y="88.11" width="38.70" height="48.04" fill="#000"/>
<line x1="297.45" y1="135.40" x2="469.80" y2="135.40" stroke="#000" stroke-width="1.5" />
<text x="384.20" y="7.60" font-size="10.95" font-weight="bold" text-anchor="middle" >Total glucose infused</text>
<text x="276.30" y="81.00" font-size="9.0" font-weight="bold" text-anchor="middle" >g</text>
<circle cx="94.00" cy="91.70" r="2.15" fill="#fff" stroke="#000" stroke-width="1.4"/>
<line x1="88.30" y1="91.70" x2="99.70" y2="91.70" stroke="#000" stroke-width="1.4" />
<text class="reg" x="107.00" y="94.60" font-weight="normal" font-size="8.4" style="white-space:pre"><tspan font-size="8.4" letter-spacing="-0.18">GIP + Hy</tspan><tspan font-size="6.26" dy="2.0" letter-spacing="-0.05">gluc</tspan><tspan font-size="8.4" letter-spacing="-0.18" dy="-2.0" dx="-0.45">-Hy</tspan><tspan font-size="6.26" dy="2.0" letter-spacing="-0.05">insu</tspan></text>
<circle cx="94.00" cy="107.00" r="2.15" fill="#000" stroke="#000" stroke-width="1.4"/>
<line x1="88.30" y1="107.00" x2="99.70" y2="107.00" stroke="#000" stroke-width="1.4" />
<text class="reg" x="107.00" y="109.90" font-weight="normal" font-size="8.4" style="white-space:pre"><tspan font-size="8.4" letter-spacing="-0.18">GIP(3-30)NH</tspan><tspan font-size="6.26" dy="2.0" letter-spacing="-0.05">2</tspan><tspan font-size="8.4" letter-spacing="-0.18" dy="-2.0" dx="-0.45"> + Hy</tspan><tspan font-size="6.26" dy="2.0" letter-spacing="-0.05">gluc</tspan><tspan font-size="8.4" letter-spacing="-0.18" dy="-2.0" dx="-0.45">-Hy</tspan><tspan font-size="6.26" dy="2.0" letter-spacing="-0.05">insu</tspan></text>
<circle cx="94.00" cy="121.00" r="2.15" fill="#fff" stroke="#000" stroke-width="1.4"/>
<path d="M91.85 121.00 A2.15 2.15 0 0 0 96.15 121.00 Z" fill="#000"/>
<line x1="88.30" y1="121.00" x2="99.70" y2="121.00" stroke="#000" stroke-width="1.4" />
<text class="reg" x="107.00" y="123.90" font-weight="normal" font-size="8.4" style="white-space:pre"><tspan font-size="8.4" letter-spacing="-0.18">GIP + GIP(3-30)NH</tspan><tspan font-size="6.26" dy="2.0" letter-spacing="-0.05">2</tspan><tspan font-size="8.4" letter-spacing="-0.18" dy="-2.0" dx="-0.45"> +Hy</tspan><tspan font-size="6.26" dy="2.0" letter-spacing="-0.05">gluc</tspan><tspan font-size="8.4" letter-spacing="-0.18" dy="-2.0" dx="-0.45">-Hy</tspan><tspan font-size="6.26" dy="2.0" letter-spacing="-0.05">insu</tspan></text>
<rect x="372.05" y="28.05" width="11.25" height="3.7" fill="#fff" stroke="#000" stroke-width="1.5"/>
<text class="reg" x="390.80" y="31.70" font-weight="normal" font-size="8.5" style="white-space:pre"><tspan font-size="8.5" letter-spacing="-0.18">GIP + Hy</tspan><tspan font-size="6.33" dy="2.0" letter-spacing="-0.05">gluc</tspan><tspan font-size="8.5" letter-spacing="-0.18" dy="-2.0" dx="-0.45">-Hy</tspan><tspan font-size="6.33" dy="2.0" letter-spacing="-0.05">insu</tspan></text>
<rect x="371.3" y="42.15" width="12.7" height="5.2" fill="#a1a1a1"/>
<text class="reg" x="390.80" y="47.50" font-weight="normal" font-size="8.5" style="white-space:pre"><tspan font-size="8.5" letter-spacing="-0.18">GIP(3-30)NH</tspan><tspan font-size="6.33" dy="2.0" letter-spacing="-0.05">2</tspan><tspan font-size="8.5" letter-spacing="-0.18" dy="-2.0" dx="-0.45"> + Hy</tspan><tspan font-size="6.33" dy="2.0" letter-spacing="-0.05">gluc</tspan><tspan font-size="8.5" letter-spacing="-0.18" dy="-2.0" dx="-0.45">-Hy</tspan><tspan font-size="6.33" dy="2.0" letter-spacing="-0.05">insu</tspan></text>
<rect x="371.3" y="57.25" width="12.7" height="5.2" fill="#000"/>
<text class="reg" x="390.80" y="62.50" font-weight="normal" font-size="8.5" style="white-space:pre"><tspan font-size="8.5" letter-spacing="-0.18">GIP + GIP(3-30)NH</tspan><tspan font-size="6.33" dy="2.0" letter-spacing="-0.05">2</tspan><tspan font-size="8.5" letter-spacing="-0.18" dy="-2.0" dx="-0.45"> + Hy</tspan><tspan font-size="6.33" dy="2.0" letter-spacing="-0.05">gluc</tspan><tspan font-size="8.5" letter-spacing="-0.18" dy="-2.0" dx="-0.45">-Hy</tspan><tspan font-size="6.33" dy="2.0" letter-spacing="-0.05">insu</tspan></text>
<text x="5.30" y="15.00" font-size="18.8" font-weight="bold" text-anchor="start" >A</text>
<text x="265.40" y="14.90" font-size="18.8" font-weight="bold" text-anchor="start" >B</text>
<text x="4.70" y="187.60" font-size="18.8" font-weight="bold" text-anchor="start" >C</text>
<text x="265.40" y="187.60" font-size="18.8" font-weight="bold" text-anchor="start" >D</text>
</svg>
</body></html>
